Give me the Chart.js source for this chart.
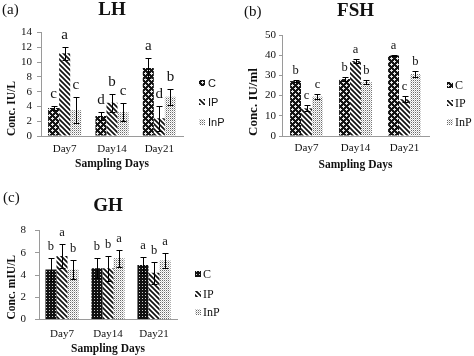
<!DOCTYPE html>
<html><head><meta charset="utf-8">
<script src="https://cdn.jsdelivr.net/npm/chart.js@4/dist/chart.umd.min.js"></script>
<style>
html,body{margin:0;padding:0;background:#fff;}
body{width:474px;height:356px;position:relative;overflow:hidden;}
.p{position:absolute;}
</style></head><body>
<div class="p" style="left:0;top:0;width:237px;height:180px"><canvas id="cA" width="237" height="180"></canvas></div>
<div class="p" style="left:237px;top:0;width:237px;height:180px"><canvas id="cB" width="237" height="180"></canvas></div>
<div class="p" style="left:0;top:180px;width:237px;height:176px"><canvas id="cC" width="237" height="176"></canvas></div>
<script>
// ---- data ----
const categories = ['Day7', 'Day14', 'Day21'];
const seriesNames = ['C', 'IP', 'InP'];

const lhC = [3.8, 2.7, 9.2];
const lhIP = [11.2, 4.5, 2.4];
const lhInP = [3.5, 3.2, 5.3];
const lhErrC = [0.3, 0.6, 1.4];
const lhErrIP = [0.9, 1.2, 1.7];
const lhErrInP = [1.75, 1.2, 1.05];
const lhLetC = ['c', 'd', 'a'];
const lhLetIP = ['a', 'b', 'd'];
const lhLetInP = ['c', 'c', 'b'];

const fshC = [27.2, 28.2, 39.8];
const fshIP = [13.7, 37.1, 18.2];
const fshInP = [19.5, 26.6, 30.7];
const fshErrC = [0.4, 1.2, 0.4];
const fshErrIP = [1.5, 1.2, 1.6];
const fshErrInP = [1.1, 1.0, 1.4];
const fshLetC = ['b', 'b', 'a'];
const fshLetIP = ['c', 'a', 'c'];
const fshLetInP = ['c', 'b', 'b'];

const ghC = [4.5, 4.6, 4.9];
const ghIP = [5.7, 4.6, 4.2];
const ghInP = [4.5, 5.5, 5.3];
const ghErrC = [1.0, 0.9, 0.75];
const ghErrIP = [1.1, 1.1, 1.0];
const ghErrInP = [0.85, 0.75, 0.7];
const ghLetC = ['b', 'b', 'a'];
const ghLetIP = ['a', 'b', 'b'];
const ghLetInP = ['b', 'a', 'a'];

const lhTicks = [0, 2, 4, 6, 8, 10, 12, 14];
const fshTicks = [0, 10, 20, 30, 40, 50];
const ghTicks = [0, 2, 4, 6, 8];

// ---- patterns ----
function tile(w, h, draw) {
  const c = document.createElement('canvas'); c.width = w; c.height = h;
  const g = c.getContext('2d'); draw(g);
  return g.createPattern(c, 'repeat');
}
const patCheck = tile(6, 6, g => {
  g.fillStyle = '#141414'; g.fillRect(0, 0, 6, 6);
  g.fillStyle = '#e8e8e8';
  g.fillRect(1, 0, 1, 3); g.fillRect(0, 1, 3, 1);
  g.fillRect(4, 3, 1, 3); g.fillRect(3, 4, 3, 1);
});
const patDark = tile(3, 3, g => {
  g.fillStyle = '#111'; g.fillRect(0, 0, 3, 3);
  g.fillStyle = '#cfcfcf'; g.fillRect(1, 1, 1, 1);
});
const patStripe = tile(5, 5, g => {
  g.fillStyle = '#fff'; g.fillRect(0, 0, 5, 5);
  g.strokeStyle = '#111'; g.lineWidth = 1.7;
  g.beginPath();
  g.moveTo(-1, -1); g.lineTo(6, 6);
  g.moveTo(-1, 4); g.lineTo(1, 6);
  g.moveTo(4, -1); g.lineTo(6, 1);
  g.stroke();
});
const patDots = tile(2, 2, g => {
  g.fillStyle = '#fff'; g.fillRect(0, 0, 2, 2);
  g.fillStyle = '#6a6a6a'; g.fillRect(0, 0, 1, 1);
  g.fillStyle = '#c8c8c8'; g.fillRect(1, 1, 1, 1);
});

const SERIF = '"Liberation Serif", "Times New Roman", serif';

// ---- decoration plugin: error bars, letters, legend, panel tag ----
const decor = {
  id: 'decor',
  afterDatasetsDraw(chart, args, o) {
    const ctx = chart.ctx, y = chart.scales.y;
    ctx.save();
    chart.data.datasets.forEach((ds, i) => {
      const meta = chart.getDatasetMeta(i);
      meta.data.forEach((bar, j) => {
        const v = ds.data[j], e = ds.errors[j];
        const yt = Math.round(y.getPixelForValue(v + e)) + 0.5;
        const yb = Math.round(y.getPixelForValue(v - e)) + 0.5;
        const x = Math.round(bar.x) + 0.5;
        ctx.strokeStyle = '#000'; ctx.lineWidth = 1;
        ctx.beginPath();
        ctx.moveTo(x, yt); ctx.lineTo(x, yb);
        ctx.moveTo(x - 3, yt); ctx.lineTo(x + 3, yt);
        ctx.moveTo(x - 3, yb); ctx.lineTo(x + 3, yb);
        ctx.stroke();
        ctx.font = o.letterFont; ctx.fillStyle = '#111';
        ctx.textAlign = 'center'; ctx.textBaseline = 'alphabetic';
        ctx.fillText(ds.letters[j], bar.x, yt - o.letterGap);
      });
    });
    ctx.restore();
  },
  afterDraw(chart, args, o) {
    const ctx = chart.ctx;
    ctx.save();
    ctx.font = o.tagFont; ctx.fillStyle = '#111';
    ctx.textAlign = 'left'; ctx.textBaseline = 'middle';
    ctx.fillText(o.tag, o.tagX, o.tagY);
    chart.data.datasets.forEach((ds, i) => {
      const cy = o.legendY[i];
      ctx.fillStyle = ds.backgroundColor;
      ctx.fillRect(o.legendX, cy - 3, 6, 6);
      ctx.fillStyle = '#111'; ctx.font = o.legendFont;
      ctx.textAlign = 'left'; ctx.textBaseline = 'middle';
      ctx.fillText(ds.label, o.legendX + o.legendGap, cy + 0.5);
    });
    ctx.restore();
  }
};

function makeChart(id, p) {
  const datasets = p.values.map((vals, i) => ({
    label: seriesNames[i],
    data: vals,
    errors: p.errors[i],
    letters: p.letters[i],
    backgroundColor: p.patterns[i],
    borderWidth: 0,
    categoryPercentage: p.catPct,
    barPercentage: 1.0
  }));
  return new Chart(document.getElementById(id), {
    type: 'bar',
    data: { labels: categories, datasets },
    plugins: [decor],
    options: {
      responsive: false,
      animation: false,
      devicePixelRatio: 1,
      layout: { padding: { left: 0, right: p.padRight, top: 0, bottom: p.padBottom } },
      plugins: {
        legend: { display: false },
        tooltip: { enabled: false },
        title: {
          display: true, text: p.title, fullSize: false, color: '#111',
          font: { family: SERIF, size: 19, weight: 'bold', lineHeight: 1 },
          padding: { top: p.titleTop, bottom: p.titleBottom }
        },
        decor: p.decor
      },
      scales: {
        x: {
          afterFit: s => { s.height = p.xHeight; },
          grid: { display: false, drawTicks: false },
          border: { display: true, color: '#9a9a9a', width: 1 },
          ticks: { color: '#111', padding: p.xTickPad, autoSkip: false, maxRotation: 0, font: { family: SERIF, size: 11 } },
          title: {
            display: true, text: 'Sampling Days', color: '#111',
            font: { family: SERIF, size: 11.5, weight: 'bold', lineHeight: 1.2 },
            padding: { top: 2, bottom: p.xTitleBottom }
          }
        },
        y: {
          min: 0, max: p.ticks[p.ticks.length - 1],
          afterFit: s => { s.width = p.yWidth; },
          afterBuildTicks: s => { s.ticks = p.ticks.map(v => ({ value: v })); },
          grid: { display: true, drawOnChartArea: false, drawTicks: true, tickLength: p.tickLen, color: '#9a9a9a' },
          border: { display: true, color: '#9a9a9a', width: 1 },
          ticks: { color: '#111', padding: p.yTickPad, autoSkip: false, font: { family: SERIF, size: 11 } },
          title: {
            display: true, text: p.yTitle, align: 'start', color: '#111',
            font: { family: SERIF, size: p.yTitleSize, weight: 'bold', lineHeight: 1.2 },
            padding: { top: p.yTitlePad, bottom: 0 }
          }
        }
      }
    }
  });
}

makeChart('cA', {
  title: 'LH', yTitle: 'Conc. IU/L', ticks: lhTicks, yTitleSize: 11.5,
  values: [lhC, lhIP, lhInP], errors: [lhErrC, lhErrIP, lhErrInP], letters: [lhLetC, lhLetIP, lhLetInP],
  patterns: [patCheck, patStripe, patDots], catPct: 0.70,
  padRight: 54, padBottom: 6.6, titleTop: 0.5, titleBottom: 13,
  xHeight: 37.4, xTickPad: 7, xTitleBottom: 2,
  yWidth: 41, tickLen: 4, yTickPad: 5, yTitlePad: 5,
  decor: { letterFont: '15px ' + SERIF, letterGap: 9, tag: '(a)', tagX: 2, tagY: 10, tagFont: '15px ' + SERIF,
    legendX: 199, legendGap: 9, legendY: [83, 102, 122], legendFont: '11px "Liberation Sans", Arial, sans-serif' }
});

makeChart('cB', {
  title: 'FSH', yTitle: 'Conc. IU/ml', ticks: fshTicks, yTitleSize: 13,
  values: [fshC, fshIP, fshInP], errors: [fshErrC, fshErrIP, fshErrInP], letters: [fshLetC, fshLetIP, fshLetInP],
  patterns: [patCheck, patStripe, patDots], catPct: 0.67,
  padRight: 45, padBottom: 6.1, titleTop: 1.5, titleBottom: 14.5,
  xHeight: 37.9, xTickPad: 6, xTitleBottom: 2,
  yWidth: 45, tickLen: 3, yTickPad: 3, yTitlePad: 9,
  decor: { letterFont: '12.5px ' + SERIF, letterGap: 7, tag: '(b)', tagX: 7, tagY: 12, tagFont: '15px ' + SERIF,
    legendX: 210, legendGap: 8, legendY: [85, 103, 122], legendFont: '12px ' + SERIF }
});

makeChart('cC', {
  title: 'GH', yTitle: 'Conc. mIU/L', ticks: ghTicks, yTitleSize: 11.5,
  values: [ghC, ghIP, ghInP], errors: [ghErrC, ghErrIP, ghErrInP], letters: [ghLetC, ghLetIP, ghLetInP],
  patterns: [patDark, patStripe, patDots], catPct: 0.72,
  padRight: 60, padBottom: 0, titleTop: 16.5, titleBottom: 15,
  xHeight: 36.5, xTickPad: 8.5, xTitleBottom: 0,
  yWidth: 39, tickLen: 4, yTickPad: 9, yTitlePad: 4.8,
  decor: { letterFont: '12.5px ' + SERIF, letterGap: 9, tag: '(c)', tagX: 3, tagY: 18, tagFont: '15px ' + SERIF,
    legendX: 195, legendGap: 8, legendY: [94, 114, 132], legendFont: '12px ' + SERIF }
});
</script>
</body></html>
